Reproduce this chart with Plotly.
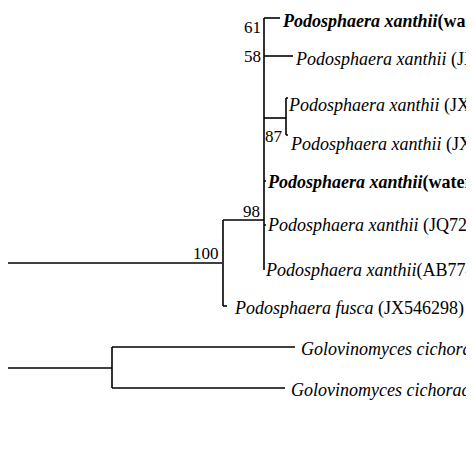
import plotly.graph_objects as go

# tree edges: (x0, y0, x1, y1) in tree-plot units
edges_x0 = [-10, -10, 104, 104, 104, 215, 215, 215, 256, 256, 256, 256, 278, 278, 278, 256, 256]
edges_y0 = [255, 360, 339, 339, 380, 212, 212, 298, 10, 10, 48, 110, 90, 90, 127, 173, 217]
edges_x1 = [214, 104, 104, 287, 277, 215, 256, 219, 256, 272, 285, 278, 278, 280, 280, 258, 258]
edges_y1 = [255, 360, 380, 339, 380, 298, 212, 298, 262, 10, 48, 110, 127, 90, 127, 173, 217]

labels = [
    "<b><i>Podosphaera xanthii</i>(watermelon)</b>",
    "<i>Podosphaera xanthii</i> (JX546295)",
    "<i>Podosphaera xanthii</i> (JX546296)",
    "<i>Podosphaera xanthii</i> (JX546297)",
    "<b><i>Podosphaera xanthii</i>(watermelon)</b>",
    "<i>Podosphaera xanthii</i> (JQ728393)",
    "<i>Podosphaera xanthii</i>(AB774158)",
    "<i>Podosphaera fusca</i> (JX546298)",
    "<i>Golovinomyces cichoracearum</i> (AB769426)",
    "<i>Golovinomyces cichoracearum</i> (AB769427)",
]
label_x = [272, 285, 278, 280, 257, 257, 255, 224, 291, 281]
label_y = [13, 51, 97, 136, 174, 217, 262, 300, 341, 382]

support = ["61", "58", "87", "98", "100"]
support_x = [255, 255, 277, 254, 213]
support_y = [19, 48, 128, 203, 245]

xs, ys = [], []
for a, b, c, d in zip(edges_x0, edges_y0, edges_x1, edges_y1):
    xs += [a, c, None]
    ys += [b, d, None]

fig = go.Figure()
fig.add_trace(go.Scatter(x=xs, y=ys, mode="lines",
                         line=dict(color="black", width=1.6),
                         hoverinfo="skip", showlegend=False, cliponaxis=True))

for t, x, y in zip(labels, label_x, label_y):
    fig.add_annotation(x=x, y=y, text=t, showarrow=False, xanchor="left",
                       yanchor="middle",
                       font=dict(family="Liberation Serif", size=18, color="black"))
for t, x, y in zip(support, support_x, support_y):
    fig.add_annotation(x=x, y=y, text=t, showarrow=False, xanchor="right",
                       yanchor="middle",
                       font=dict(family="Liberation Serif", size=17, color="black"))

fig.update_layout(width=474, height=474, margin=dict(l=0, r=0, t=0, b=0),
                  plot_bgcolor="white", paper_bgcolor="white")
fig.update_xaxes(range=[0, 474], visible=False, fixedrange=True)
fig.update_yaxes(range=[474, 0], visible=False, fixedrange=True)
fig.write_html("out.html")
